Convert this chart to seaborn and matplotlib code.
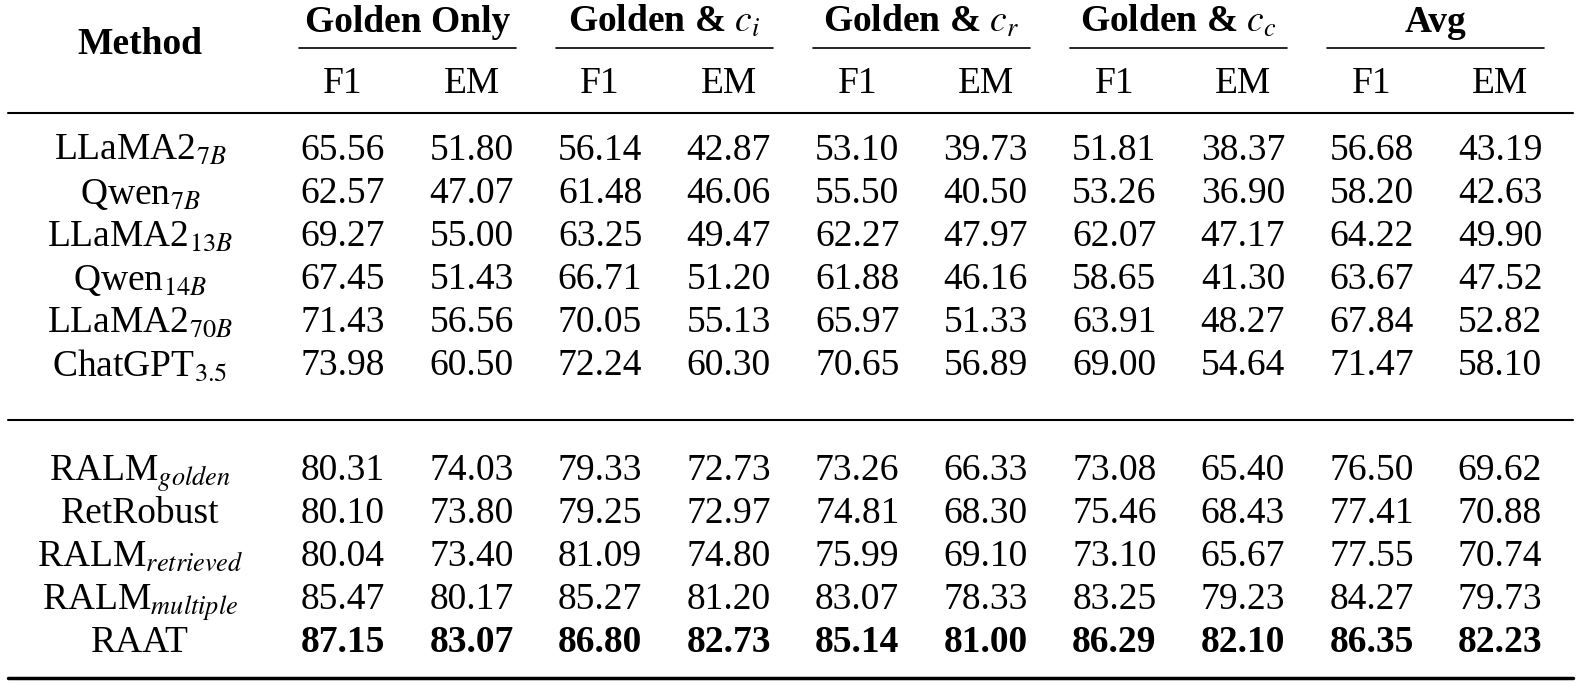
import matplotlib
matplotlib.use("Agg")
import matplotlib.pyplot as plt
import seaborn as sns
import pandas as pd
import numpy as np
from matplotlib.colors import ListedColormap

sns.set_theme(style="white")
plt.rcParams['font.family'] = ['Liberation Serif', 'DejaVu Serif']
plt.rcParams['mathtext.fontset'] = 'stix'
plt.rcParams['text.color'] = 'black'

groups = ["Golden Only", r"Golden & $c_i$", r"Golden & $c_r$", r"Golden & $c_c$", "Avg"]
metrics = ["F1", "EM"] * 5
methods_top = [r"LLaMA2$_{7B}$", r"Qwen$_{7B}$", r"LLaMA2$_{13B}$", r"Qwen$_{14B}$",
               r"LLaMA2$_{70B}$", r"ChatGPT$_{\mathrm{3.5}}$"]
methods_bot = [r"RALM$_{golden}$", "RetRobust", r"RALM$_{retrieved}$", r"RALM$_{multiple}$", "RAAT"]
values_top = [
    [65.56, 51.80, 56.14, 42.87, 53.10, 39.73, 51.81, 38.37, 56.68, 43.19],
    [62.57, 47.07, 61.48, 46.06, 55.50, 40.50, 53.26, 36.90, 58.20, 42.63],
    [69.27, 55.00, 63.25, 49.47, 62.27, 47.97, 62.07, 47.17, 64.22, 49.90],
    [67.45, 51.43, 66.71, 51.20, 61.88, 46.16, 58.65, 41.30, 63.67, 47.52],
    [71.43, 56.56, 70.05, 55.13, 65.97, 51.33, 63.91, 48.27, 67.84, 52.82],
    [73.98, 60.50, 72.24, 60.30, 70.65, 56.89, 69.00, 54.64, 71.47, 58.10],
]
values_bot = [
    [80.31, 74.03, 79.33, 72.73, 73.26, 66.33, 73.08, 65.40, 76.50, 69.62],
    [80.10, 73.80, 79.25, 72.97, 74.81, 68.30, 75.46, 68.43, 77.41, 70.88],
    [80.04, 73.40, 81.09, 74.80, 75.99, 69.10, 73.10, 65.67, 77.55, 70.74],
    [85.47, 80.17, 85.27, 81.20, 83.07, 78.33, 83.25, 79.23, 84.27, 79.73],
    [87.15, 83.07, 86.80, 82.73, 85.14, 81.00, 86.29, 82.10, 86.35, 82.23],
]

W, H = 1581, 689
fig = plt.figure(figsize=(W / 100, H / 100), dpi=100)
white = ListedColormap(["white"])
FS = 27

def px_axes(x0, y0, x1, y1):
    return fig.add_axes([x0 / W, 1 - y1 / H, (x1 - x0) / W, (y1 - y0) / H])

x0, x1 = 278.7, 1564.3
blocks = [(values_top, methods_top, 125.5, 383.5, None),
          (values_bot, methods_bot, 445.5, 660.5, 4)]
for vals, meths, ya, yb, boldrow in blocks:
    ax = px_axes(x0, ya, x1, yb)
    df = pd.DataFrame(vals, index=meths, columns=metrics)
    sns.heatmap(df, ax=ax, cmap=white, cbar=False, annot=True, fmt=".2f",
                annot_kws={"fontsize": FS, "color": "black"},
                xticklabels=False, yticklabels=False)
    ncol = len(metrics)
    for k, t in enumerate(ax.texts):
        t.set_va("center_baseline")
        if boldrow is not None and k // ncol == boldrow:
            t.set_fontweight("bold")
    ax.set_axis_off()

ov = fig.add_axes([0, 0, 1, 1])
ov.set_xlim(0, W)
ov.set_ylim(H, 0)
ov.set_axis_off()
ov.patch.set_alpha(0)

kw = dict(ha="center", va="center_baseline", fontsize=FS, color="black")
for i, m in enumerate(methods_top):
    ov.text(140, 147 + 43 * i, m, **kw)
for i, m in enumerate(methods_bot):
    ov.text(140, 467 + 43 * i, m, **kw)

ov.text(140, 40, "Method", fontweight="bold", **kw)
cw = (x1 - x0) / 10
for g, name in enumerate(groups):
    cx = x0 + cw * (2 * g + 1)
    ov.text(cx, 18, name, fontweight="bold", **kw)
    ov.plot([x0 + cw * 2 * g + 20, x0 + cw * (2 * g + 2) - 20], [48, 48], color="black", lw=1.2)
for j, m in enumerate(metrics):
    ov.text(x0 + cw * (j + 0.5), 80, m, **kw)

ov.plot([8, 1573], [113, 113], color="black", lw=1.5)
ov.plot([8, 1573], [420, 420], color="black", lw=1.5)
ov.plot([8, 1573], [678, 678], color="black", lw=2.5)

fig.savefig("out.png", dpi=100)
